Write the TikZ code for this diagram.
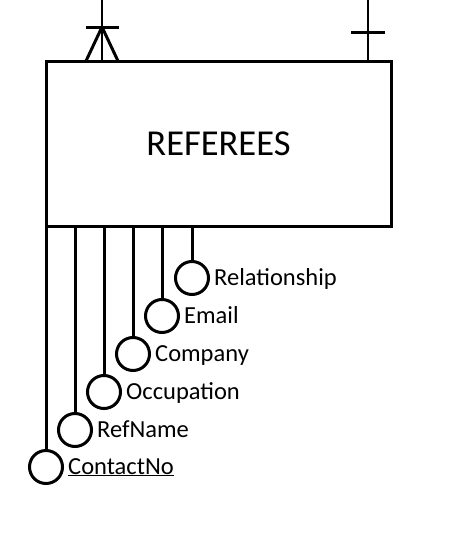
\documentclass[tikz,border=0pt]{standalone}
\usepackage{fontspec}
\setmainfont{Carlito}
\begin{document}
\begin{tikzpicture}[x=1pt,y=-1pt,
  ent/.style={draw,line width=3pt,minimum width=345pt,minimum height=165pt,inner sep=0pt,font=\fontsize{36.5}{40}\selectfont},
  attr/.style={draw,circle,line width=3pt,minimum size=33pt,inner sep=0pt},
  lbl/.style={anchor=base west,inner sep=0pt,font=\fontsize{24.5}{28}\selectfont},
  conn/.style={line width=3pt},
  thin/.style={line width=2pt}]
\useasboundingbox (0,0) rectangle (474,533);
\node[ent] (box) at (218.5,143.5) {REFEREES};
% crow's foot left
\coordinate (t1) at (102,0);
\coordinate (b1) at (102,27);
\draw[thin] (t1) -- (t1 |- box.north);
\draw[conn] (86,27) -- (119,27);
\draw[conn] (b1) -- (86,61);
\draw[conn] (b1) -- (118,61);
% right one
\coordinate (t2) at (368,0);
\draw[thin] (t2) -- (t2 |- box.north);
\draw[conn] (351,32) -- (385,32);
% attributes
\node[attr] (a1) at (46,467) {};
\node[attr] (a2) at (75,430) {};
\node[attr] (a3) at (104,392) {};
\node[attr] (a4) at (133,354) {};
\node[attr] (a5) at (162,316) {};
\node[attr] (a6) at (192,278) {};
\foreach \i in {1,...,6}{
  \draw[conn] (a\i.north) -- (a\i.north |- box.south);
}
\node[lbl] (l1) at ([xshift=4pt,yshift=-7pt]a1.east) {\underline{ContactNo}};
\node[lbl] (l2) at ([xshift=4pt,yshift=-7pt]a2.east) {RefName};
\node[lbl] (l3) at ([xshift=4pt,yshift=-7pt]a3.east) {Occupation};
\node[lbl] (l4) at ([xshift=4pt,yshift=-7pt]a4.east) {Company};
\node[lbl] (l5) at ([xshift=4pt,yshift=-7pt]a5.east) {Email};
\node[lbl] (l6) at ([xshift=4pt,yshift=-7pt]a6.east) {Relationship};
\end{tikzpicture}
\end{document}
